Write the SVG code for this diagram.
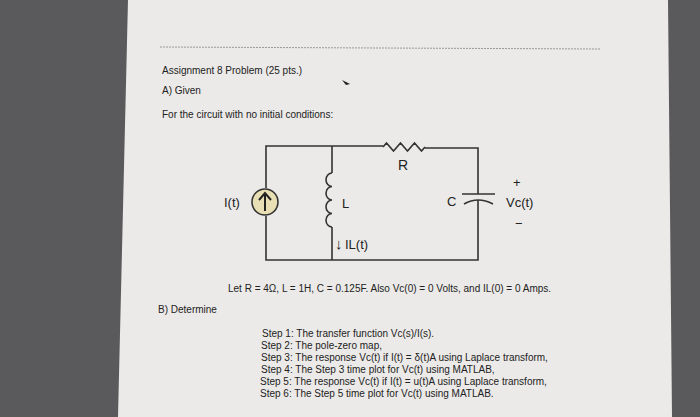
<svg xmlns="http://www.w3.org/2000/svg" width="700" height="417" viewBox="0 0 700 417">
<style>
text{font-family:"Liberation Sans",Arial,sans-serif;fill:#222}
.t{font-size:10px}
.w{fill:none;stroke:#333;stroke-width:1.6}
</style>
<rect width="700" height="417" fill="#5a5a5c"/>
<polygon points="128,0 668,0 672,417 118,417" fill="#ebeae8"/>
<line x1="160" y1="47" x2="600" y2="49" stroke="#999" stroke-dasharray="2,1"/>
<text class="t" x="162" y="74">Assignment 8 Problem (25 pts.)</text>
<text class="t" x="162" y="94">A) Given</text>
<text class="t" x="162" y="118">For the circuit with no initial conditions:</text>
<g id="wires" class="w">
<path d="M266,188 V146 H383 M425,148 H478 V194 M478,200 V260 H266 V216"/>
<path d="M332,146 V173 M332,227 V260"/>
</g>
<g id="R"><path class="w" d="M383,147 l3.5,-4 l7,8 l7,-8 l7,8 l7,-8 l7,8 l3.5,-4"/><text x="398" y="170" font-size="14">R</text></g>
<g id="L"><path class="w" d="M332,173 a6,6.75 0 1 0 0,13.5 a6,6.75 0 1 0 0,13.5 a6,6.75 0 1 0 0,13.5 a6,6.75 0 1 0 0,13.5"/><text x="342" y="208" font-size="13">L</text>
<text x="335" y="249" font-size="15">↓</text><text x="345" y="249" font-size="13">IL(t)</text></g>
<g id="C"><line class="w" x1="462" y1="194" x2="495" y2="194"/><path class="w" d="M464,204 Q478,196 493,204"/><text x="447" y="206" font-size="13">C</text>
<text x="513" y="187" font-size="13">+</text><text x="506" y="207" font-size="13">Vc(t)</text><text x="515" y="228" font-size="13">−</text></g>
<g id="I"><circle cx="265" cy="202" r="13" fill="#e9dfb5" stroke="#333" stroke-width="1.6"/><path d="M265,211 V195 M259,200 L265,193 L271,200" stroke="#222" stroke-width="2" fill="none"/><text x="224" y="207" font-size="13">I(t)</text></g>
<text class="t" x="228" y="292">Let R = 4Ω, L = 1H, C = 0.125F.  Also Vc(0) = 0 Volts, and IL(0) = 0 Amps.</text>
<text class="t" x="158" y="313">B) Determine</text>
<g class="t">
<text x="262" y="337">Step 1: The transfer function Vc(s)/I(s).</text>
<text x="261" y="349">Step 2: The pole-zero map,</text>
<text x="261" y="361">Step 3: The response Vc(t) if I(t) = δ(t)A using Laplace transform,</text>
<text x="261" y="373">Step 4: The Step 3 time plot for Vc(t) using MATLAB,</text>
<text x="260" y="385">Step 5: The response Vc(t) if I(t) = u(t)A using Laplace transform,</text>
<text x="260" y="397">Step 6: The Step 5 time plot for Vc(t) using MATLAB.</text>
</g>
<path d="M342,80 l8,4 l-4,1 z" fill="#222"/>
</svg>
